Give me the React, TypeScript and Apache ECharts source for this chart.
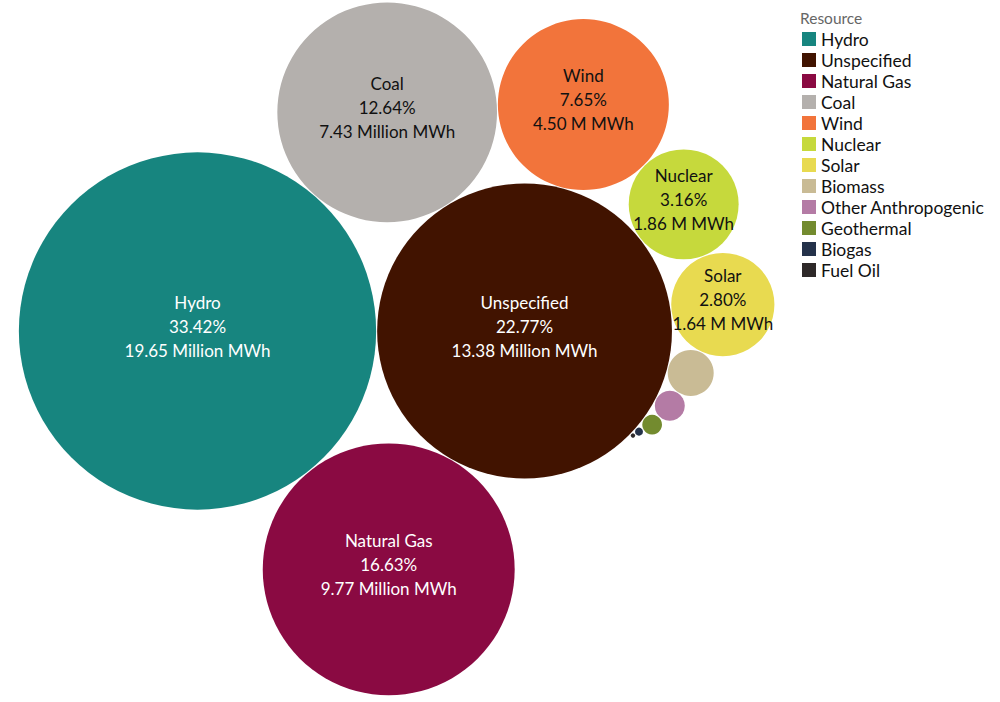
import React, { useEffect, useRef } from "react";
import * as echarts from "echarts";

// ---- Data ----
const resources = [
  "Hydro",
  "Unspecified",
  "Natural Gas",
  "Coal",
  "Wind",
  "Nuclear",
  "Solar",
  "Biomass",
  "Other Anthropogenic",
  "Geothermal",
  "Biogas",
  "Fuel Oil",
];
const generationMillionMWh = [19.65, 13.38, 9.77, 7.43, 4.5, 1.86, 1.64, 0.325, 0.138, 0.06, 0.0098, 0.003];
const sharePercent = [33.42, 22.77, 16.63, 12.64, 7.65, 3.16, 2.8, 0.56, 0.24, 0.1, 0.02, 0.01];
const colors = [
  "#17857f",
  "#411300",
  "#8a0a42",
  "#b4b0ad",
  "#f2743b",
  "#c6d93c",
  "#e8da50",
  "#c9bb95",
  "#b47ba5",
  "#738b2f",
  "#24324a",
  "#2e2929",
];
const whiteLabel = [true, true, true, false, false, false, false, false, false, false, false, false];
// Packing order: each bubble (from the third on) is placed tangent to these two earlier bubbles
const packAgainst: [string, string][] = [
  ["Hydro", "Unspecified"],
  ["Unspecified", "Hydro"],
  ["Unspecified", "Coal"],
  ["Unspecified", "Wind"],
  ["Unspecified", "Nuclear"],
  ["Unspecified", "Solar"],
  ["Unspecified", "Biomass"],
  ["Unspecified", "Other Anthropogenic"],
  ["Unspecified", "Geothermal"],
  ["Unspecified", "Biogas"],
];

const RADIUS_PER_SQRT = 40.3;
const GAP = 1;
const FONT = "Lato, 'Open Sans', sans-serif";

function packBubbles() {
  const r = generationMillionMWh.map((v) => RADIUS_PER_SQRT * Math.sqrt(v));
  const pos: { x: number; y: number }[] = [];
  pos[0] = { x: 0, y: 0 };
  pos[1] = { x: r[0] + r[1] + GAP, y: 0 };
  for (let i = 2; i < resources.length; i++) {
    const [an, bn] = packAgainst[i - 2];
    const a = resources.indexOf(an);
    const b = resources.indexOf(bn);
    const dA = r[a] + r[i] + GAP;
    const dB = r[b] + r[i] + GAP;
    const dx = pos[b].x - pos[a].x;
    const dy = pos[b].y - pos[a].y;
    const d = Math.hypot(dx, dy);
    const along = (dA * dA - dB * dB + d * d) / (2 * d);
    const h = Math.sqrt(Math.max(0, dA * dA - along * along));
    const ux = dx / d;
    const uy = dy / d;
    pos[i] = { x: pos[a].x + along * ux - h * uy, y: pos[a].y + along * uy + h * ux };
  }
  return resources.map((name, i) => ({ name, x: pos[i].x, y: pos[i].y, r: r[i] }));
}

export default function App() {
  const ref = useRef<HTMLDivElement>(null);
  useEffect(() => {
    if (!ref.current) return;
    const chart = echarts.init(ref.current, undefined, { renderer: "svg" });
    const bubbles = packBubbles();
    const series = bubbles.map((b, i) => ({
      type: "custom",
      name: b.name,
      coordinateSystem: "cartesian2d",
      itemStyle: { color: colors[i] },
      data: [[b.x, b.y, b.r, i]],
      encode: { x: 0, y: 1 },
      renderItem: (params: any, api: any) => {
        const idx = api.value(3);
        const c = api.coord([api.value(0), api.value(1)]);
        const rad = api.size([api.value(2), api.value(2)])[0];
        const children: any[] = [
          {
            type: "circle",
            shape: { cx: c[0], cy: c[1], r: rad },
            style: { fill: colors[idx] },
          },
        ];
        if (rad > 40) {
          const unit = rad > 100 ? "Million MWh" : "M MWh";
          children.push({
            type: "text",
            style: {
              text: `${resources[idx]}\n${sharePercent[idx].toFixed(2)}%\n${generationMillionMWh[idx].toFixed(2)} ${unit}`,
              x: c[0],
              y: c[1] - 5,
              align: "center",
              verticalAlign: "middle",
              fontSize: 17,
              lineHeight: 24,
              fontFamily: FONT,
              fill: whiteLabel[idx] ? "#ffffff" : "#111111",
            },
          });
        }
        return { type: "group", children };
      },
    }));
    chart.setOption({
      animation: false,
      title: {
        text: "Resource",
        left: 795,
        top: 5,
        textStyle: { fontSize: 15.5, color: "#666666", fontWeight: "normal", fontFamily: FONT },
      },
      legend: {
        orient: "vertical",
        left: 797,
        top: 25,
        itemWidth: 14,
        itemHeight: 14,
        itemGap: 3,
        icon: "rect",
        selectedMode: false,
        data: resources,
        textStyle: { fontSize: 17.5, lineHeight: 17, color: "#111111", fontFamily: FONT },
      },
      grid: { left: 0, right: 0, top: 0, bottom: 0 },
      xAxis: { type: "value", min: -197.5, max: 802.5, show: false },
      yAxis: { type: "value", inverse: true, min: -331, max: 371, show: false },
      series,
    });
    return () => chart.dispose();
  }, []);
  return (
    <div
      ref={ref}
      style={{ position: "fixed", left: 0, top: 0, width: 1000, height: 702, background: "#ffffff" }}
    />
  );
}
